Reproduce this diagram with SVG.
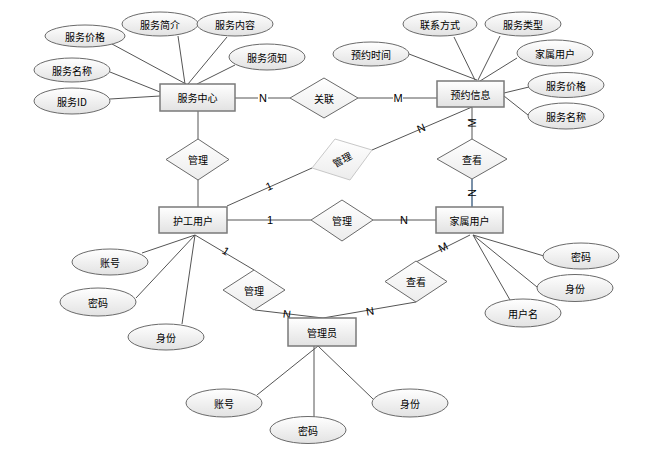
<svg xmlns="http://www.w3.org/2000/svg" width="664" height="453" viewBox="0 0 664 453">
<defs>
<linearGradient id="g" x1="0" y1="0" x2="0" y2="1">
<stop offset="0" stop-color="#ffffff"/>
<stop offset="1" stop-color="#e2e2e2"/>
</linearGradient>
<linearGradient id="gl" x1="0" y1="0" x2="0" y2="1">
<stop offset="0" stop-color="#ffffff"/>
<stop offset="1" stop-color="#ececec"/>
</linearGradient>
</defs>
<style>
.ent{fill:url(#g);stroke:#7a7a7a;stroke-width:1.5}
.att{fill:url(#g);stroke:#6a6a6a;stroke-width:1}
.rel{fill:url(#gl);stroke:#6a6a6a;stroke-width:1}
.relf{fill:url(#gl);stroke:#c8c8c8;stroke-width:1}
.t{font-family:"Noto Sans CJK SC","Liberation Sans",sans-serif;font-size:10px;fill:#000;text-anchor:middle;dominant-baseline:central}
.c line,.c polyline{stroke:#555;stroke-width:1;fill:none}
.lb{font-family:"Liberation Sans",sans-serif;font-size:11px;fill:#000;text-anchor:middle;dominant-baseline:central}
</style>
<rect width="664" height="453" fill="#fff"/>
<g class="c" id="connectors">
<line x1="112" y1="44" x2="186" y2="84"/>
<line x1="178" y1="36" x2="185" y2="84"/>
<line x1="227" y1="37" x2="188" y2="84"/>
<line x1="235" y1="65" x2="197" y2="84"/>
<line x1="110" y1="72" x2="160" y2="92"/>
<line x1="110" y1="99" x2="160" y2="96"/>
<line x1="409" y1="54" x2="477" y2="80"/>
<line x1="454" y1="37" x2="475" y2="80"/>
<line x1="500" y1="36" x2="478" y2="80"/>
<line x1="517" y1="58" x2="480" y2="81"/>
<line x1="529" y1="87" x2="504" y2="93"/>
<line x1="528" y1="115" x2="504" y2="96"/>
<line x1="235" y1="98" x2="290" y2="98"/>
<line x1="358" y1="98" x2="437" y2="98"/>
<line x1="198" y1="111" x2="198" y2="139"/>
<line x1="198" y1="180" x2="198" y2="207"/>
<line x1="227" y1="206" x2="312" y2="168"/>
<line x1="372" y1="150" x2="472" y2="107"/>
<line x1="472" y1="107" x2="472" y2="139"/>
<line x1="472" y1="179" x2="472" y2="207" style="stroke:#4e6d8c;stroke-width:1.5"/>
<line x1="227" y1="220" x2="311" y2="220"/>
<line x1="373" y1="220" x2="436" y2="220"/>
<line x1="195" y1="235" x2="142" y2="253"/>
<line x1="195" y1="235" x2="136" y2="298"/>
<line x1="195" y1="235" x2="182" y2="324"/>
<line x1="195" y1="235" x2="254" y2="270"/>
<polyline points="255,310 323,318 416,302"/>
<line x1="416" y1="262" x2="470" y2="235"/>
<line x1="473" y1="235" x2="544" y2="256"/>
<line x1="473" y1="235" x2="537" y2="287"/>
<line x1="473" y1="235" x2="510" y2="300"/>
<line x1="318" y1="346" x2="257" y2="395"/>
<line x1="314" y1="346" x2="314" y2="418"/>
<line x1="318" y1="346" x2="373" y2="399"/>
<g>
<rect x="258" y="92" width="10" height="12" fill="#fff"/>
<text class="lb" x="263" y="98">N</text>
<rect x="393" y="92" width="10" height="12" fill="#fff"/>
<text class="lb" x="398" y="98">M</text>
<text class="lb" x="269" y="186" transform="rotate(-24 269 186)">1</text>
<text class="lb" x="421" y="128" transform="rotate(-23 421 128)">N</text>
<text class="lb" x="472" y="123" transform="rotate(-90 472 123)">M</text>
<text class="lb" x="472" y="193" transform="rotate(90 472 193)">N</text>
<text class="lb" x="270" y="220">1</text>
<text class="lb" x="404" y="220">N</text>
<text class="lb" x="226" y="251" transform="rotate(31 226 251)">1</text>
<text class="lb" x="287" y="314" transform="rotate(7 287 314)">N</text>
<text class="lb" x="370" y="311" transform="rotate(-10 370 311)">N</text>
<text class="lb" x="443" y="247" transform="rotate(-27 443 247)">M</text>
</g>
</g>
<g id="e-fwzx"><rect class="ent" x="160" y="84" width="75" height="27"/><text class="t" x="197.5" y="97.5">服务中心</text></g>
<g id="e-yyxx"><rect class="ent" x="437" y="81" width="67" height="26"/><text class="t" x="470.5" y="94">预约信息</text></g>
<g id="e-hgyh"><rect class="ent" x="159" y="207" width="68" height="26"/><text class="t" x="193" y="220">护工用户</text></g>
<g id="e-jsyh"><rect class="ent" x="436" y="207" width="67" height="26"/><text class="t" x="469.5" y="220">家属用户</text></g>
<g id="e-gly"><rect class="ent" x="288" y="318" width="68" height="28"/><text class="t" x="322" y="332">管理员</text></g>
<g id="r-gl"><polygon class="rel" points="324,78 358,98 324,118 290,98"/><text class="t" x="324" y="98">关联</text></g>
<g id="r-gl1"><polygon class="rel" points="198,139 229,159.5 198,180 166,159.5"/><text class="t" x="198" y="159.5">管理</text></g>
<g id="r-gl2"><polygon class="relf" points="312,168 335,139 372,150 350,180"/><text class="t" x="342" y="159" transform="rotate(-28 342 159)">管理</text></g>
<g id="r-gl3"><polygon class="rel" points="342,200 373,220 342,241 311,220"/><text class="t" x="342" y="220">管理</text></g>
<g id="r-ck1"><polygon class="rel" points="472,139 507,159 472,179 437,159"/><text class="t" x="472" y="159">查看</text></g>
<g id="r-gl4"><polygon class="rel" points="254,270 285,290 254,310 223,290"/><text class="t" x="254" y="290">管理</text></g>
<g id="r-ck2"><polygon class="rel" points="416,261 447,281.5 416,302 385,281.5"/><text class="t" x="416" y="281.5">查看</text></g>
<g id="a1"><ellipse class="att" cx="85" cy="36" rx="40" ry="11"/><text class="t" x="85" y="36">服务价格</text></g>
<g id="a2"><ellipse class="att" cx="160" cy="24" rx="38" ry="12"/><text class="t" x="160" y="24">服务简介</text></g>
<g id="a3"><ellipse class="att" cx="235" cy="24" rx="38" ry="12"/><text class="t" x="235" y="24">服务内容</text></g>
<g id="a4"><ellipse class="att" cx="267" cy="57" rx="38" ry="13"/><text class="t" x="267" y="57">服务须知</text></g>
<g id="a5"><ellipse class="att" cx="72" cy="70" rx="38" ry="12"/><text class="t" x="72" y="70">服务名称</text></g>
<g id="a6"><ellipse class="att" cx="72" cy="101" rx="38" ry="13"/><text class="t" x="72" y="101">服务ID</text></g>
<g id="a7"><ellipse class="att" cx="371" cy="54" rx="38" ry="12"/><text class="t" x="371" y="54">预约时间</text></g>
<g id="a8"><ellipse class="att" cx="440" cy="24" rx="37" ry="12"/><text class="t" x="440" y="24">联系方式</text></g>
<g id="a9"><ellipse class="att" cx="523" cy="24" rx="38" ry="12"/><text class="t" x="523" y="24">服务类型</text></g>
<g id="a10"><ellipse class="att" cx="555" cy="53" rx="38" ry="13"/><text class="t" x="555" y="53">家属用户</text></g>
<g id="a11"><ellipse class="att" cx="566" cy="85" rx="38" ry="12.5"/><text class="t" x="566" y="85">服务价格</text></g>
<g id="a12"><ellipse class="att" cx="566" cy="116" rx="38" ry="13"/><text class="t" x="566" y="116">服务名称</text></g>
<g id="a13"><ellipse class="att" cx="110" cy="262" rx="38" ry="13"/><text class="t" x="110" y="262">账号</text></g>
<g id="a14"><ellipse class="att" cx="98" cy="302" rx="38" ry="14"/><text class="t" x="98" y="302">密码</text></g>
<g id="a15"><ellipse class="att" cx="166" cy="337" rx="38" ry="13"/><text class="t" x="166" y="337">身份</text></g>
<g id="a16"><ellipse class="att" cx="581" cy="256" rx="38" ry="13"/><text class="t" x="581" y="256">密码</text></g>
<g id="a17"><ellipse class="att" cx="575" cy="288" rx="38" ry="13.5"/><text class="t" x="575" y="288">身份</text></g>
<g id="a18"><ellipse class="att" cx="523" cy="313" rx="38" ry="14"/><text class="t" x="523" y="313">用户名</text></g>
<g id="a19"><ellipse class="att" cx="224" cy="403" rx="38" ry="14"/><text class="t" x="224" y="403">账号</text></g>
<g id="a20"><ellipse class="att" cx="308" cy="430" rx="38" ry="13.5"/><text class="t" x="308" y="430">密码</text></g>
<g id="a21"><ellipse class="att" cx="410" cy="403" rx="38" ry="14"/><text class="t" x="410" y="403">身份</text></g>
</svg>
